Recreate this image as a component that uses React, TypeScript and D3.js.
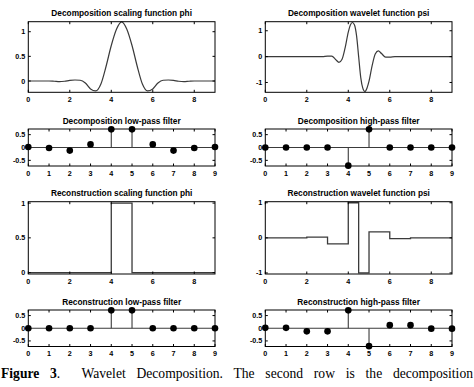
import React, { useLayoutEffect, useRef, useState } from "react";
import * as d3 from "d3";

// ---------- data ----------
const xTicksEven = [0, 2, 4, 6, 8];
const xTicksAll = [0, 1, 2, 3, 4, 5, 6, 7, 8, 9];

// Decomposition scaling function phi
const decPhiX = [0, 0.25, 0.5, 0.75, 1, 1.25, 1.5, 1.75, 2, 2.25, 2.5, 2.75, 3, 3.25, 3.5, 3.75, 4, 4.25, 4.5, 4.75, 5, 5.25, 5.5, 5.75, 6, 6.25, 6.5, 6.75, 7, 7.25, 7.5, 7.75, 8, 8.25, 8.5, 8.75, 9];
const decPhiY = [0, 0, 0, 0, 0, -0.005, -0.012, -0.005, 0.012, 0.02, 0.015, -0.04, -0.16, -0.2, -0.06, 0.3, 0.72, 1.05, 1.2, 1.05, 0.72, 0.3, -0.06, -0.2, -0.16, -0.04, 0.015, 0.02, 0.012, -0.005, -0.012, -0.005, 0, 0, 0, 0, 0];

// Decomposition wavelet function psi
const decPsiX = [0, 2.5, 2.75, 3.0, 3.2, 3.4, 3.55, 3.7, 3.85, 4.0, 4.1, 4.2, 4.3, 4.4, 4.5, 4.6, 4.7, 4.8, 4.9, 5.0, 5.15, 5.3, 5.45, 5.6, 5.8, 6.0, 6.25, 9];
const decPsiY = [0, 0, 0, 0.02, 0.02, -0.12, -0.22, -0.1, 0.35, 0.95, 1.22, 1.32, 1.22, 0.8, 0, -0.8, -1.22, -1.35, -1.22, -0.95, -0.35, 0.1, 0.22, 0.12, -0.02, -0.02, 0, 0];

// Filters
const decLowPass = [0.0166, -0.0166, -0.1215, 0.1215, 0.7071, 0.7071, 0.1215, -0.1215, -0.0166, 0.0166];
const decHighPass = [0, 0, 0, 0, -0.7071, 0.7071, 0, 0, 0, 0];
const recLowPass = [0, 0, 0, 0, 0.7071, 0.7071, 0, 0, 0, 0];
const recHighPass = [0.0166, 0.0166, -0.1215, -0.1215, 0.7071, -0.7071, 0.1215, 0.1215, -0.0166, -0.0166];

// Reconstruction functions (piecewise constant: value on [edge_i, edge_i+1])
const recPhiEdges = [0, 4, 5, 9];
const recPhiVals = [0, 1, 0];
const recPsiEdges = [0, 2, 3, 4, 4.5, 5, 6, 7, 9];
const recPsiVals = [0, 0.0234, -0.1718, 1, -1, 0.1718, -0.0234, 0];

const titles = [
  "Decomposition scaling function phi",
  "Decomposition wavelet function psi",
  "Decomposition low-pass filter",
  "Decomposition high-pass filter",
  "Reconstruction scaling function phi",
  "Reconstruction wavelet function psi",
  "Reconstruction low-pass filter",
  "Reconstruction high-pass filter",
];

const captionBold = "Figure 3";
const captionRest = ".  Wavelet Decomposition. The second row is the decomposition";

// ---------- layout ----------
const W = 474;
const H = 387;
const cols = [
  { x0: 28.3, x1: 215 },
  { x0: 265.3, x1: 452 },
];
const rows = [
  { y0: 21.7, y1: 92.3 },
  { y0: 129, y1: 166 },
  { y0: 201.7, y1: 274 },
  { y0: 310, y1: 346.5 },
];

type Panel = {
  title: string;
  kind: "line" | "stem" | "step";
  xs?: number[];
  ys: number[];
  yDomain: [number, number];
  yTicks: number[];
  yTickLabels: string[];
  xTicks: number[];
};

const panels: Panel[] = [
  { title: titles[0], kind: "line", xs: decPhiX, ys: decPhiY, yDomain: [-0.229, 1.203], yTicks: [0, 0.5, 1], yTickLabels: ["0", "0.5", "1"], xTicks: xTicksEven },
  { title: titles[1], kind: "line", xs: decPsiX, ys: decPsiY, yDomain: [-1.38, 1.35], yTicks: [-1, 0, 1], yTickLabels: ["-1", "0", "1"], xTicks: xTicksEven },
  { title: titles[2], kind: "stem", ys: decLowPass, yDomain: [-0.72, 0.72], yTicks: [-0.5, 0, 0.5], yTickLabels: ["-0.5", "0", "0.5"], xTicks: xTicksAll },
  { title: titles[3], kind: "stem", ys: decHighPass, yDomain: [-0.72, 0.72], yTicks: [-0.5, 0, 0.5], yTickLabels: ["-0.5", "0", "0.5"], xTicks: xTicksAll },
  { title: titles[4], kind: "step", xs: recPhiEdges, ys: recPhiVals, yDomain: [-0.02, 1.02], yTicks: [0, 0.5, 1], yTickLabels: ["0", "0.5", "1"], xTicks: xTicksEven },
  { title: titles[5], kind: "step", xs: recPsiEdges, ys: recPsiVals, yDomain: [-1.03, 1.03], yTicks: [-1, 0, 1], yTickLabels: ["-1", "0", "1"], xTicks: xTicksEven },
  { title: titles[6], kind: "stem", ys: recLowPass, yDomain: [-0.72, 0.72], yTicks: [-0.5, 0, 0.5], yTickLabels: ["-0.5", "0", "0.5"], xTicks: xTicksAll },
  { title: titles[7], kind: "stem", ys: recHighPass, yDomain: [-0.72, 0.72], yTicks: [-0.5, 0, 0.5], yTickLabels: ["-0.5", "0", "0.5"], xTicks: xTicksAll },
];

const FONT = "'Liberation Sans', Arial, Helvetica, sans-serif";
const LINE = "#3a3a3a";

function PanelView({ p, col, row }: { p: Panel; col: number; row: number }) {
  const { x0, x1 } = cols[col];
  const { y0, y1 } = rows[row];
  const x = d3.scaleLinear().domain([0, 9]).range([x0, x1]);
  const y = d3.scaleLinear().domain(p.yDomain).range([y1, y0]);
  const tl = 2.5;
  let content: React.ReactNode = null;

  if (p.kind === "line") {
    const pts: [number, number][] = p.xs!.map((v, i) => [v, p.ys[i]]);
    const path = d3
      .line<[number, number]>()
      .x((d) => x(d[0]))
      .y((d) => y(d[1]))
      .curve(d3.curveMonotoneX)(pts);
    content = <path d={path || ""} fill="none" stroke={LINE} strokeWidth={1.2} />;
  } else if (p.kind === "step") {
    const pts: [number, number][] = p.xs!.map((v, i) => [v, i < p.ys.length ? p.ys[i] : p.ys[p.ys.length - 1]]);
    const path = d3
      .line<[number, number]>()
      .x((d) => x(d[0]))
      .y((d) => y(d[1]))
      .curve(d3.curveStepAfter)(pts);
    content = <path d={path || ""} fill="none" stroke={LINE} strokeWidth={1.3} />;
  } else {
    content = (
      <g>
        <line x1={x0} x2={x1} y1={y(0)} y2={y(0)} stroke={LINE} strokeWidth={1.1} />
        {p.ys.map((v, i) => (
          <line key={"s" + i} x1={x(i)} x2={x(i)} y1={y(0)} y2={y(v)} stroke={LINE} strokeWidth={1.1} />
        ))}
        {p.ys.map((v, i) => (
          <circle key={"c" + i} cx={x(i)} cy={y(v)} r={3.3} fill="#000" />
        ))}
      </g>
    );
  }

  return (
    <g>
      <text x={(x0 + x1) / 2} y={y0 - 5.5} textAnchor="middle" fontFamily={FONT} fontWeight="bold" fontSize={8.3} fill="#000">
        {p.title}
      </text>
      {content}
      <rect x={x0} y={y0} width={x1 - x0} height={y1 - y0} fill="none" stroke="#000" strokeWidth={1} />
      {p.xTicks.map((t) => (
        <g key={"xt" + t}>
          <line x1={x(t)} x2={x(t)} y1={y1} y2={y1 - tl} stroke="#000" />
          <line x1={x(t)} x2={x(t)} y1={y0} y2={y0 + tl} stroke="#000" />
          <text x={x(t)} y={y1 + 9.5} textAnchor="middle" fontFamily={FONT} fontWeight="bold" fontSize={7.2} fill="#000">
            {t}
          </text>
        </g>
      ))}
      {p.yTicks.map((t, i) => (
        <g key={"yt" + t}>
          <line x1={x0} x2={x0 + tl} y1={y(t)} y2={y(t)} stroke="#000" />
          <line x1={x1} x2={x1 - tl} y1={y(t)} y2={y(t)} stroke="#000" />
          <text x={x0 - 3} y={y(t) + 2.5} textAnchor="end" fontFamily={FONT} fontWeight="bold" fontSize={7.2} fill="#000">
            {p.yTickLabels[i]}
          </text>
        </g>
      ))}
    </g>
  );
}

function Caption() {
  const ref = useRef<SVGTextElement>(null);
  const [ws, setWs] = useState(0);
  useLayoutEffect(() => {
    const el = ref.current;
    if (!el) return;
    const full = captionBold + captionRest;
    const nSpaces = (full.match(/ /g) || []).length;
    const len = el.getComputedTextLength();
    const target = 472;
    if (nSpaces > 0) setWs(Math.max(0, (target - len) / nSpaces));
  }, []);
  return (
    <text
      ref={ref}
      x={1}
      y={377.5}
      fontFamily="'Liberation Serif', 'Times New Roman', serif"
      fontSize={13.6}
      fill="#000"
      style={{ whiteSpace: "pre", wordSpacing: ws + "px" }}
    >
      <tspan fontWeight="bold">{captionBold}</tspan>
      <tspan>{captionRest}</tspan>
    </text>
  );
}

export default function App() {
  return (
    <svg
      width={W}
      height={H}
      viewBox={`0 0 ${W} ${H}`}
      style={{ position: "absolute", left: 0, top: 0, background: "#fff" }}
    >
      <rect x={0} y={0} width={W} height={H} fill="#fff" />
      {panels.map((p, i) => (
        <PanelView key={i} p={p} col={i % 2} row={Math.floor(i / 2)} />
      ))}
      <Caption />
    </svg>
  );
}
